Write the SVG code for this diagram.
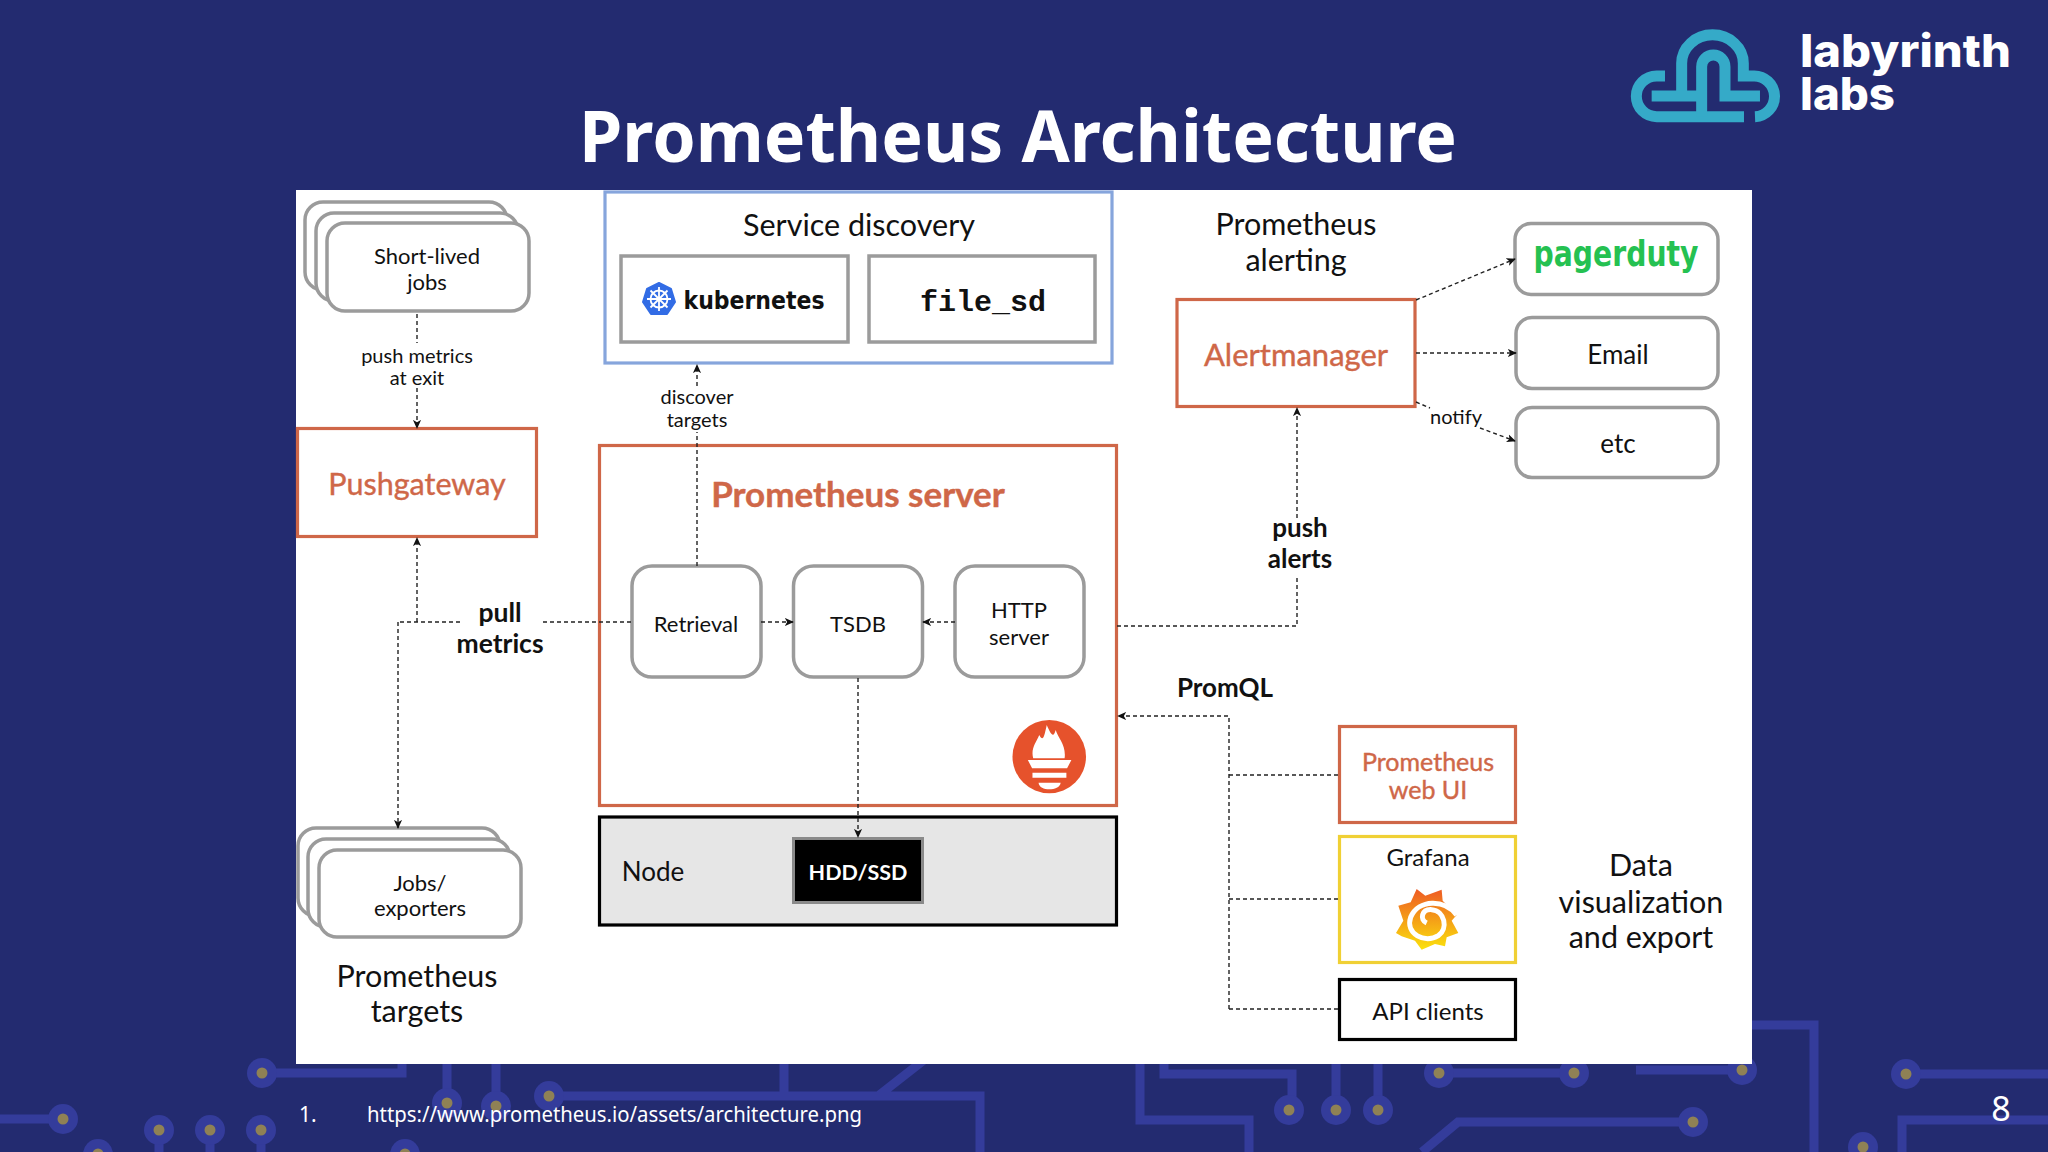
<svg xmlns="http://www.w3.org/2000/svg" width="2048" height="1152" viewBox="0 0 2048 1152">
<style>
text{font-family:"Lato","Noto Sans",sans-serif;fill:#111;text-anchor:middle}
.trace{fill:none;stroke:#343c9b;stroke-width:9}
.gray{fill:#fff;stroke:#9b9b9b;stroke-width:3.5}
.org{fill:#fff;stroke:#cf6748;stroke-width:3.2}
.dash{fill:none;stroke:#222;stroke-width:1.4;stroke-dasharray:4 3;marker-end:url(#ah)}
.dl{fill:none;stroke:#222;stroke-width:1.4;stroke-dasharray:4 3}
.s20{font-size:20px}.s22{font-size:22px}.s26{font-size:26px}.s30{font-size:30.500px}
.b{font-weight:700}.o{fill:#cf6748;stroke:#cf6748;stroke-width:.4}
.slide{font-family:"Noto Sans",sans-serif;fill:#fff}
.lg{font-family:Inter,"Liberation Sans",sans-serif;font-size:45px;font-weight:800;fill:#fff;text-anchor:start}
</style>
<defs>
<marker id="ah" viewBox="0 0 10 10" refX="9" refY="5" markerWidth="9" markerHeight="9" markerUnits="userSpaceOnUse" orient="auto"><path d="M0,0.500L10,5L0,9.500L2.500,5Z" fill="#111"/></marker>
<g id="pad"><circle r="15" fill="#343c9b"/><circle r="5.500" fill="#8f8155"/></g>
<linearGradient id="gf" x1="0" y1="0" x2="0" y2="1"><stop offset="0" stop-color="#ee5a24"/><stop offset="1" stop-color="#fbe20c"/></linearGradient>
</defs>
<rect id="background" width="2048" height="1152" fill="#232b70"/>
<g id="circuit">
<path class="trace" d="M262,1073H402V1060M447,1060V1103M496,1060V1106M549,1096H980V1152M784,1060V1096M878,1096L924,1060M0,1119H63M159,1130V1152M210,1130V1152M261,1130V1152M1140,1060V1120H1249V1152M1164,1060V1074H1292V1110M1336,1060V1110M1378,1060V1110M1439,1073H1574M1636,1070H1742M1906,1074H2048M1693,1122H1458L1422,1152M1750,1025H1814V1152M1902,1152V1120H2048"/>
<use href="#pad" x="262" y="1073"/><use href="#pad" x="447" y="1103"/><use href="#pad" x="496" y="1106"/><use href="#pad" x="549" y="1096"/><use href="#pad" x="63" y="1119"/><use href="#pad" x="159" y="1130"/><use href="#pad" x="210" y="1130"/><use href="#pad" x="261" y="1130"/><use href="#pad" x="98" y="1154"/><use href="#pad" x="405" y="1154"/><use href="#pad" x="1289" y="1110"/><use href="#pad" x="1336" y="1110"/><use href="#pad" x="1378" y="1110"/><use href="#pad" x="1439" y="1073"/><use href="#pad" x="1574" y="1073"/><use href="#pad" x="1742" y="1070"/><use href="#pad" x="1906" y="1074"/><use href="#pad" x="1693" y="1122"/><use href="#pad" x="1863" y="1147"/>
</g>
<rect id="panel" x="296" y="190" width="1456" height="874" fill="#fff"/>
<g id="slide-title"><text class="slide" x="1018" y="162" style="font-size:72px;font-weight:700" textLength="878" lengthAdjust="spacingAndGlyphs">Prometheus Architecture</text></g>
<g id="logo">
<g transform="translate(1600,0) scale(.3333)" fill="none" stroke="#35aac8" stroke-width="33">
<path d="M195,228H170A61,61 0 0 0 170,350H432M245,288V190A92,85 0 0 1 430,190V228H460A61,61 0 0 1 465,350"/>
<path d="M155,288H305V200A35,35 0 0 1 375,200V288H480M305,288V350"/>
</g>
<text class="lg" x="1800" y="67" textLength="211" lengthAdjust="spacingAndGlyphs">labyrinth</text>
<text class="lg" x="1800" y="110" textLength="95" lengthAdjust="spacingAndGlyphs">labs</text>
</g>
<g id="short-lived-jobs">
<rect class="gray" x="305" y="202" width="202" height="88" rx="18"/>
<rect class="gray" x="316" y="213" width="202" height="88" rx="18"/>
<rect class="gray" x="327" y="223" width="202" height="88" rx="18"/>
<text class="s22" x="427" y="264">Short-lived</text><text class="s22" x="427" y="290">jobs</text>
</g>
<text class="s20" x="417" y="363">push metrics</text>
<text class="s20" x="417" y="385">at exit</text>
<g id="pushgateway"><rect class="org" x="297.500" y="428.500" width="239" height="108"/><text class="s30 o" x="417" y="495">Pushgateway</text></g>
<g id="service-discovery">
<rect x="605" y="192" width="507" height="171" fill="#fff" stroke="#86a5dc" stroke-width="3.200"/>
<text class="s30" x="859" y="236">Service discovery</text>
</g>
<g id="kubernetes">
<rect class="gray" x="621" y="256" width="227" height="86"/>
<polygon points="659,283 671,289 675,302 667,314 651,314 643,302 647,289" fill="#326ce5" stroke="#326ce5" stroke-width="2" stroke-linejoin="round"/>
<g stroke="#fff" stroke-width="1.800" fill="none"><circle cx="659" cy="299" r="8.500"/><path d="M659,287V311M647,299H671M650.500,290.500L667.500,307.500M667.500,290.500L650.500,307.500"/></g>
<text x="754" y="309" style="font-family:'DejaVu Sans',sans-serif;font-size:24px;font-weight:700" textLength="141" lengthAdjust="spacingAndGlyphs">kubernetes</text>
</g>
<g id="file-sd"><rect class="gray" x="869" y="256" width="226" height="86"/>
<text x="983" y="311" style="font-family:'Liberation Mono',monospace;font-size:30px;font-weight:700">file_sd</text></g>
<text class="s20" x="697" y="404">discover</text><text class="s20" x="697" y="427">targets</text>
<g id="prometheus-server">
<rect class="org" x="599.500" y="445.500" width="517" height="360"/>
<text class="o b" x="858" y="507" style="font-size:35px">Prometheus server</text>
<g transform="translate(960,680) scale(.357,.3333)">
<ellipse cx="250" cy="230" rx="103" ry="110" fill="#e6522c"/>
<path fill="#fff" d="M205,235C198,205 212,190 222,165C232,185 235,175 243,135C255,165 262,175 268,150C275,175 298,195 293,235ZM190,240H312L300,265H202ZM203,278H298V293H203ZM220,308H282C280,322 265,328 250,328C235,328 222,322 220,308Z"/>
</g>
</g>
<g id="retrieval"><rect class="gray" x="632" y="566" width="129" height="111" rx="20"/><text class="s22" x="696" y="632">Retrieval</text></g>
<g id="tsdb"><rect class="gray" x="793.500" y="566" width="129" height="111" rx="20"/><text class="s22" x="858" y="632">TSDB</text></g>
<g id="http-server"><rect class="gray" x="955" y="566" width="129" height="111" rx="20"/><text class="s22" x="1019" y="618">HTTP</text><text class="s22" x="1019" y="645">server</text></g>
<g id="node"><rect x="599.500" y="817" width="517" height="108" fill="#e6e6e6" stroke="#000" stroke-width="3.200"/><text x="653" y="881" style="font-size:26px">Node</text></g>
<g id="hdd-ssd"><rect x="793.500" y="838.500" width="129" height="64" fill="#000" stroke="#8a8a8a" stroke-width="3"/><text class="b" x="858" y="880" style="fill:#fff;font-size:21.500px">HDD/SSD</text></g>
<text class="b" x="500" y="622" style="font-size:26.500px">pull</text><text class="b" x="500" y="653" style="font-size:26.500px">metrics</text>
<g id="jobs-exporters">
<rect class="gray" x="298" y="828" width="202" height="88" rx="18"/>
<rect class="gray" x="308" y="839" width="202" height="88" rx="18"/>
<rect class="gray" x="319" y="850" width="202" height="87" rx="18"/>
<text class="s22" x="420" y="891">Jobs/</text><text class="s22" x="420" y="916">exporters</text>
</g>
<text class="s30" x="417" y="987">Prometheus</text><text class="s30" x="417" y="1022">targets</text>
<text class="s30" x="1296" y="235">Prometheus</text><text class="s30" x="1296" y="271">alerting</text>
<g id="alertmanager"><rect class="org" x="1177" y="299.500" width="238" height="107"/><text class="s30 o" x="1296" y="366" style="font-size:31px">Alertmanager</text></g>
<text class="s20" x="1456" y="424">notify</text>
<g id="pagerduty"><rect class="gray" x="1515" y="223.500" width="203" height="71" rx="16"/><text x="1616" y="266" style="font-family:'DejaVu Sans',sans-serif;font-size:36px;font-weight:700;fill:#25c151" textLength="165" lengthAdjust="spacingAndGlyphs">pagerduty</text></g>
<g id="email"><rect class="gray" x="1516" y="317.500" width="202" height="71" rx="16"/><text x="1618" y="364" style="font-size:26px">Email</text></g>
<g id="etc"><rect class="gray" x="1516" y="407.500" width="202" height="70" rx="16"/><text x="1618" y="453" style="font-size:26px">etc</text></g>
<text class="b s26" x="1300" y="537">push</text><text class="b s26" x="1300" y="568">alerts</text>
<text class="b s26" x="1225" y="697">PromQL</text>
<g id="prometheus-web-ui"><rect class="org" x="1339.500" y="726.500" width="176" height="96"/><text class="o" x="1428" y="771" style="font-size:25px">Prometheus</text><text class="o" x="1428" y="799" style="font-size:25px">web UI</text></g>
<g id="grafana"><rect x="1339.500" y="836.500" width="176" height="126" fill="#fff" stroke="#f0d034" stroke-width="3.200"/><text x="1428" y="866" style="font-size:24px">Grafana</text>
<g transform="translate(1320,699) scale(.3333)">
<path fill="url(#gf)" d="M290,570L316,590L365,572L368,605L410,648L395,665L415,702L380,715L375,742L345,735L305,752L285,725L245,712L228,702L250,665L235,620L272,610Z"/>
<path fill="none" stroke="#fff" stroke-width="15" d="M410,648C375,600 295,600 272,655C255,705 315,735 355,710C385,690 375,635 335,632C305,630 298,662 320,672"/>
</g></g>
<g id="api-clients"><rect x="1339.500" y="979.500" width="176" height="60" fill="#fff" stroke="#000" stroke-width="3.200"/><text x="1428" y="1020" style="font-size:24px">API clients</text></g>
<text class="s30" x="1641" y="876">Data</text><text class="s30" x="1641" y="913">visualization</text><text class="s30" x="1641" y="948">and export</text>
<g id="connectors">
<path class="dl" d="M417,314V343"/>
<path class="dash" d="M417,388V428"/>
<path class="dash" d="M417,622V538"/>
<path class="dl" d="M543,622H631M460,622H398"/>
<path class="dash" d="M398,622V828"/>
<path class="dl" d="M697,566V432"/>
<path class="dash" d="M697,386V365"/>
<path class="dash" d="M761,622H793"/>
<path class="dash" d="M955,622H923"/>
<path class="dash" d="M858,678V837"/>
<path class="dl" d="M1117,626H1297V576"/>
<path class="dash" d="M1297,518V408"/>
<path class="dash" d="M1416,300L1515,259"/>
<path class="dash" d="M1416,353H1516"/>
<path class="dl" d="M1416,402L1430,408"/>
<path class="dash" d="M1480,428L1515,441"/>
<path class="dash" d="M1229,1009V716H1118"/>
<path class="dl" d="M1229,775H1339M1229,899H1339M1229,1009H1339"/>
</g>
<g id="footer">
<text class="slide" x="299" y="1122" style="font-size:21px;text-anchor:start">1.</text>
<text class="slide" x="367" y="1122" style="font-size:22px;text-anchor:start" textLength="495" lengthAdjust="spacingAndGlyphs">https://www.prometheus.io/assets/architecture.png</text>
<text class="slide" x="2001" y="1121" style="font-size:34px">8</text>
</g>
</svg>
